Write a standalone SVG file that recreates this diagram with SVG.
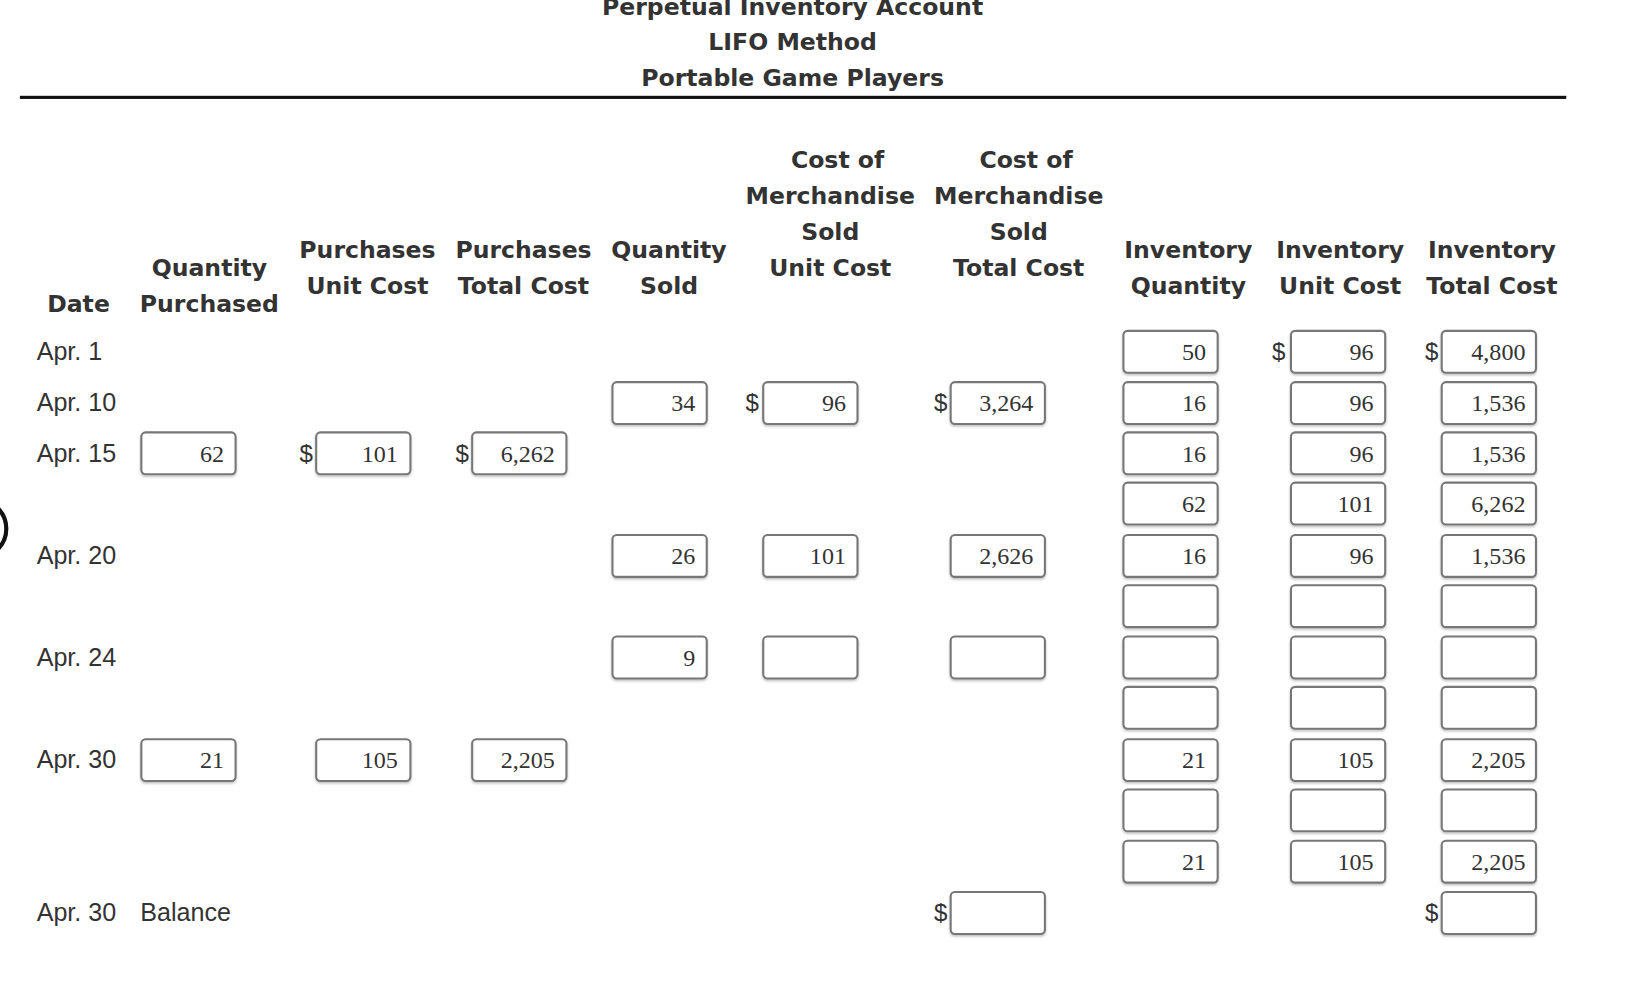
<svg xmlns="http://www.w3.org/2000/svg" width="1642" height="984" viewBox="0 0 1642 984">
<style>
.h{font-family:"DejaVu Sans",Verdana,sans-serif;font-weight:bold;font-size:22.5px;fill:#333;text-anchor:middle}
.l{font-family:"Liberation Sans",Arial,sans-serif;font-size:24px;fill:#333}
.v{font-family:"Liberation Serif","Times New Roman",serif;font-size:23px;fill:#333;text-anchor:end}
.d{font-family:"Liberation Sans",Arial,sans-serif;font-size:23px;fill:#333}
.b{fill:#fff;stroke:#777;stroke-width:2}
</style>
<defs><filter id="s" x="-10%" y="-10%" width="130%" height="140%"><feDropShadow dx="0" dy="1.5" stdDeviation="1.2" flood-color="#000" flood-opacity="0.25"/></filter></defs>
<rect width="1642" height="984" fill="#fff"/>
<g transform="scale(1.047)">
<g id="title">
<text class="h" x="757" y="14">Perpetual Inventory Account</text>
<text class="h" x="757" y="48">LIFO Method</text>
<text class="h" x="757" y="82">Portable Game Players</text>
<rect x="19" y="91.5" width="1477" height="3" fill="#111"/>
</g>
<g id="headers">
<text class="h" x="75" y="298">Date</text>
<text class="h" x="200" y="264">Quantity</text><text class="h" x="200" y="298">Purchased</text>
<text class="h" x="351" y="246">Purchases</text><text class="h" x="351" y="281">Unit Cost</text>
<text class="h" x="500" y="246">Purchases</text><text class="h" x="500" y="281">Total Cost</text>
<text class="h" x="639" y="246">Quantity</text><text class="h" x="639" y="281">Sold</text>
<text class="h" x="800" y="160">Cost of</text><text class="h" x="793" y="195">Merchandise</text><text class="h" x="793" y="229">Sold</text><text class="h" x="793" y="264">Unit Cost</text>
<text class="h" x="980" y="160">Cost of</text><text class="h" x="973" y="195">Merchandise</text><text class="h" x="973" y="229">Sold</text><text class="h" x="973" y="264">Total Cost</text>
<text class="h" x="1135" y="246">Inventory</text><text class="h" x="1135" y="281">Quantity</text>
<text class="h" x="1280" y="246">Inventory</text><text class="h" x="1280" y="281">Unit Cost</text>
<text class="h" x="1425" y="246">Inventory</text><text class="h" x="1425" y="281">Total Cost</text>
</g>
<g id="rows">
<text class="l" x="35" y="344">Apr. 1</text>
<text class="l" x="35" y="393">Apr. 10</text>
<text class="l" x="35" y="441">Apr. 15</text>
<text class="l" x="35" y="539">Apr. 20</text>
<text class="l" x="35" y="636">Apr. 24</text>
<text class="l" x="35" y="734">Apr. 30</text>
<text class="l" x="35" y="880">Apr. 30</text><text class="l" x="134" y="880">Balance</text>
</g>
<g id="boxes" filter="url(#s)">
<rect class="b" x="135" y="413" width="90" height="40" rx="4"/>
<rect class="b" x="135" y="706" width="90" height="40" rx="4"/>
<rect class="b" x="302" y="413" width="90" height="40" rx="4"/>
<rect class="b" x="302" y="706" width="90" height="40" rx="4"/>
<rect class="b" x="451" y="413" width="90" height="40" rx="4"/>
<rect class="b" x="451" y="706" width="90" height="40" rx="4"/>
<rect class="b" x="585" y="365" width="90" height="40" rx="4"/>
<rect class="b" x="585" y="511" width="90" height="40" rx="4"/>
<rect class="b" x="585" y="608" width="90" height="40" rx="4"/>
<rect class="b" x="729" y="365" width="90" height="40" rx="4"/>
<rect class="b" x="729" y="511" width="90" height="40" rx="4"/>
<rect class="b" x="729" y="608" width="90" height="40" rx="4"/>
<rect class="b" x="908" y="365" width="90" height="40" rx="4"/>
<rect class="b" x="908" y="511" width="90" height="40" rx="4"/>
<rect class="b" x="908" y="608" width="90" height="40" rx="4"/>
<rect class="b" x="908" y="852" width="90" height="40" rx="4"/>
<rect class="b" x="1377" y="852" width="90" height="40" rx="4"/>
<g id="inv">
<rect class="b" x="1073" y="316" width="90" height="40" rx="4"/><rect class="b" x="1233" y="316" width="90" height="40" rx="4"/><rect class="b" x="1377" y="316" width="90" height="40" rx="4"/>
<rect class="b" x="1073" y="365" width="90" height="40" rx="4"/><rect class="b" x="1233" y="365" width="90" height="40" rx="4"/><rect class="b" x="1377" y="365" width="90" height="40" rx="4"/>
<rect class="b" x="1073" y="413" width="90" height="40" rx="4"/><rect class="b" x="1233" y="413" width="90" height="40" rx="4"/><rect class="b" x="1377" y="413" width="90" height="40" rx="4"/>
<rect class="b" x="1073" y="461" width="90" height="40" rx="4"/><rect class="b" x="1233" y="461" width="90" height="40" rx="4"/><rect class="b" x="1377" y="461" width="90" height="40" rx="4"/>
<rect class="b" x="1073" y="511" width="90" height="40" rx="4"/><rect class="b" x="1233" y="511" width="90" height="40" rx="4"/><rect class="b" x="1377" y="511" width="90" height="40" rx="4"/>
<rect class="b" x="1073" y="559" width="90" height="40" rx="4"/><rect class="b" x="1233" y="559" width="90" height="40" rx="4"/><rect class="b" x="1377" y="559" width="90" height="40" rx="4"/>
<rect class="b" x="1073" y="608" width="90" height="40" rx="4"/><rect class="b" x="1233" y="608" width="90" height="40" rx="4"/><rect class="b" x="1377" y="608" width="90" height="40" rx="4"/>
<rect class="b" x="1073" y="656" width="90" height="40" rx="4"/><rect class="b" x="1233" y="656" width="90" height="40" rx="4"/><rect class="b" x="1377" y="656" width="90" height="40" rx="4"/>
<rect class="b" x="1073" y="706" width="90" height="40" rx="4"/><rect class="b" x="1233" y="706" width="90" height="40" rx="4"/><rect class="b" x="1377" y="706" width="90" height="40" rx="4"/>
<rect class="b" x="1073" y="754" width="90" height="40" rx="4"/><rect class="b" x="1233" y="754" width="90" height="40" rx="4"/><rect class="b" x="1377" y="754" width="90" height="40" rx="4"/>
<rect class="b" x="1073" y="803" width="90" height="40" rx="4"/><rect class="b" x="1233" y="803" width="90" height="40" rx="4"/><rect class="b" x="1377" y="803" width="90" height="40" rx="4"/>
</g>
</g>
<g id="values">
<text class="v" x="214" y="441">62</text><text class="v" x="214" y="734">21</text>
<text class="v" x="380" y="441">101</text><text class="v" x="380" y="734">105</text>
<text class="v" x="530" y="441">6,262</text><text class="v" x="530" y="734">2,205</text>
<text class="v" x="664" y="393">34</text><text class="v" x="664" y="539">26</text><text class="v" x="664" y="636">9</text>
<text class="v" x="808" y="393">96</text><text class="v" x="808" y="539">101</text>
<text class="v" x="987" y="393">3,264</text><text class="v" x="987" y="539">2,626</text>
<text class="v" x="1152" y="344">50</text><text class="v" x="1312" y="344">96</text><text class="v" x="1457" y="344">4,800</text>
<text class="v" x="1152" y="393">16</text><text class="v" x="1312" y="393">96</text><text class="v" x="1457" y="393">1,536</text>
<text class="v" x="1152" y="441">16</text><text class="v" x="1312" y="441">96</text><text class="v" x="1457" y="441">1,536</text>
<text class="v" x="1152" y="489">62</text><text class="v" x="1312" y="489">101</text><text class="v" x="1457" y="489">6,262</text>
<text class="v" x="1152" y="539">16</text><text class="v" x="1312" y="539">96</text><text class="v" x="1457" y="539">1,536</text>
<text class="v" x="1152" y="734">21</text><text class="v" x="1312" y="734">105</text><text class="v" x="1457" y="734">2,205</text>
<text class="v" x="1152" y="831">21</text><text class="v" x="1312" y="831">105</text><text class="v" x="1457" y="831">2,205</text>
</g>
<g id="dollars">
<text class="d" x="286" y="441">$</text><text class="d" x="435" y="441">$</text>
<text class="d" x="712" y="393">$</text><text class="d" x="892" y="393">$</text>
<text class="d" x="1215" y="344">$</text><text class="d" x="1361" y="344">$</text>
<text class="d" x="892" y="880">$</text><text class="d" x="1361" y="880">$</text>
</g>
<circle cx="-22" cy="505" r="28" fill="none" stroke="#111" stroke-width="4"/>
</g>
</svg>
